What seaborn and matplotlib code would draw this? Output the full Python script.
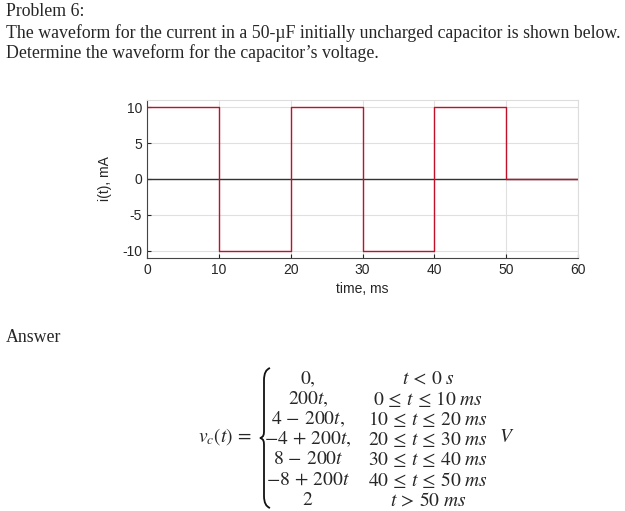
import numpy as np
import matplotlib
matplotlib.use("Agg")
import matplotlib.pyplot as plt
from matplotlib.path import Path
from matplotlib.patches import PathPatch
import seaborn as sns

# current waveform, steps-post
time_ms = [0, 10, 20, 30, 40, 50, 60]
current_ma = [10, -10, 10, -10, 10, 0, 0]

x_ticks = [0, 10, 20, 30, 40, 50, 60]
y_ticks = [-10, -5, 0, 5, 10]

expr_rows = ["$0,$", "$200t,$", "$4\\,-\\,200t,$", "$-4\\,+\\,200t,$", "$8\\,-\\,200t$",
             "$-8\\,+\\,200t$", "$2$"]
cond_rows = ["$t\\,<\\,0\\ s$", "$0\\,\\leq\\,t\\,\\leq\\,10\\ ms$", "$10\\,\\leq\\,t\\,\\leq\\,20\\ ms$",
             "$20\\,\\leq\\,t\\,\\leq\\,30\\ ms$", "$30\\,\\leq\\,t\\,\\leq\\,40\\ ms$",
             "$40\\,\\leq\\,t\\,\\leq\\,50\\ ms$", "$t\\,>\\,50\\ ms$"]

sns.set_style("white")
plt.rcParams['font.family'] = ['Liberation Sans', 'DejaVu Sans']
plt.rcParams['mathtext.fontset'] = 'stix'
plt.rcParams['axes.unicode_minus'] = False

W, H = 625, 511
fig = plt.figure(figsize=(W / 100, H / 100), dpi=100)

def fx(px):
    return px / W

def fy(py):
    return 1 - py / H

serif = ['Liberation Serif', 'DejaVu Serif']
fs = 12.8
fig.text(fx(6), fy(12), "Problem 6:", family=serif, fontsize=fs, va='center', ha='left')
fig.text(fx(6), fy(33), "The waveform for the current in a 50-\u00b5F initially uncharged capacitor is shown below.",
         family=serif, fontsize=fs, va='center', ha='left')
fig.text(fx(6), fy(53), "Determine the waveform for the capacitor\u2019s voltage.",
         family=serif, fontsize=fs, va='center', ha='left')
fig.text(fx(6), fy(337), "Answer", family=serif, fontsize=fs, va='center', ha='left')

ax = fig.add_axes([fx(147), fy(258), fx(578) - fx(147), (258 - 100) / H])
sns.lineplot(x=time_ms, y=current_ma, ax=ax, drawstyle='steps-post', color='#c0102a', linewidth=1)
ax.axhline(0, color='#333333', linewidth=1, zorder=1)
ax.set_xlim(0, 60)
ax.set_ylim(-11, 11)
ax.set_xticks(x_ticks)
ax.set_yticks(y_ticks)
ax.grid(True, color='#e0e0e0', linewidth=0.8)
ax.tick_params(labelsize=10, length=3, direction='in', left=True, bottom=True)
for side in ['left', 'bottom']:
    ax.spines[side].set_color('#444444')
for side in ['top', 'right']:
    ax.spines[side].set_color('#dddddd')
ax.set_xlabel("time, ms", fontsize=10, labelpad=4)
ax.set_ylabel("i(t), mA", fontsize=10, labelpad=7)

# piecewise answer
mfs = 14
fig.text(fx(252), fy(437), "$v_c(t)\\,=$", fontsize=mfs, ha='right', va='center')

# left brace drawn as a thin bezier path (figure pixel coords)
def P(px, py):
    return (fx(px), fy(py))
top, mid, bot, xb, xm = 368, 438, 508, 270, 260
verts = [P(xb, top), P(xm + 4, top + 2), P(xm + 4, top + 12), P(xm + 4, mid - 8),
         P(xm + 4, mid - 4), P(xm + 4, mid - 1), P(xm, mid),
         P(xm + 4, mid + 1), P(xm + 4, mid + 4), P(xm + 4, mid + 8),
         P(xm + 4, bot - 12), P(xm + 4, bot - 2), P(xb, bot)]
codes = [Path.MOVETO, Path.CURVE3, Path.CURVE3, Path.LINETO,
         Path.CURVE4, Path.CURVE4, Path.CURVE4,
         Path.CURVE4, Path.CURVE4, Path.CURVE4,
         Path.LINETO, Path.CURVE3, Path.CURVE3]
fig.patches.append(PathPatch(Path(verts, codes), transform=fig.transFigure,
                             fill=False, lw=1.3, edgecolor='#111111'))

for i, (e, c) in enumerate(zip(expr_rows, cond_rows)):
    y = 379 + i * 20.2
    fig.text(fx(308), fy(y), e, fontsize=mfs, ha='center', va='center')
    fig.text(fx(428), fy(y), c, fontsize=mfs, ha='center', va='center')
fig.text(fx(507), fy(437), "$V$", fontsize=mfs, ha='center', va='center')

fig.savefig("out.png", dpi=100)
